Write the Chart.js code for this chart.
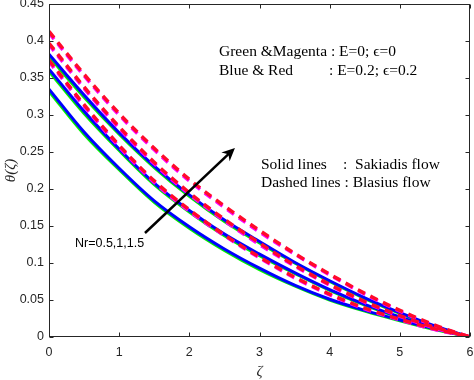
<!DOCTYPE html>
<html>
<head>
<meta charset="utf-8">
<script src="https://cdn.jsdelivr.net/npm/chart.js@4/dist/chart.umd.min.js"></script>
<style>
html,body{margin:0;padding:0;background:#fff;}
#wrap{width:474px;height:380px;position:relative;}
</style>
</head>
<body>
<div id="wrap"><canvas id="c" width="474" height="380"></canvas></div>
<script>
// ---- data ----
const zeta = [0, 0.5, 1, 1.5, 2, 2.5, 3, 3.5, 4, 4.5, 5, 5.5, 6];

// Sakiadis flow (solid), E=0.2 (blue) and E=0 (green), Nr = 0.5, 1, 1.5
const blueNr05  = [0.335, 0.277, 0.228, 0.184, 0.149, 0.119, 0.093, 0.070, 0.051, 0.036, 0.023, 0.011, 0];
const blueNr1   = [0.362, 0.305, 0.254, 0.208, 0.171, 0.139, 0.112, 0.087, 0.064, 0.044, 0.027, 0.012, 0];
const blueNr15  = [0.382, 0.327, 0.276, 0.231, 0.192, 0.158, 0.129, 0.101, 0.076, 0.053, 0.033, 0.015, 0];
const greenNr05 = [0.332, 0.274, 0.226, 0.182, 0.147, 0.117, 0.091, 0.069, 0.050, 0.035, 0.022, 0.010, 0];
const greenNr1  = [0.359, 0.302, 0.252, 0.206, 0.169, 0.137, 0.110, 0.086, 0.063, 0.043, 0.026, 0.011, 0];
const greenNr15 = [0.379, 0.324, 0.274, 0.229, 0.190, 0.156, 0.127, 0.100, 0.075, 0.052, 0.032, 0.014, 0];

// Blasius flow (dashed), E=0.2 (red) and E=0 (magenta)
const redNr05     = [0.374, 0.314, 0.259, 0.211, 0.172, 0.138, 0.108, 0.081, 0.058, 0.039, 0.024, 0.011, 0];
const redNr1      = [0.397, 0.338, 0.284, 0.236, 0.195, 0.159, 0.127, 0.097, 0.071, 0.048, 0.029, 0.013, 0];
const redNr15     = [0.413, 0.355, 0.302, 0.255, 0.213, 0.177, 0.144, 0.113, 0.085, 0.059, 0.036, 0.016, 0];
const magentaNr05 = [0.372, 0.312, 0.257, 0.209, 0.170, 0.137, 0.107, 0.080, 0.057, 0.038, 0.023, 0.010, 0];
const magentaNr1  = [0.395, 0.336, 0.282, 0.234, 0.193, 0.157, 0.125, 0.096, 0.070, 0.047, 0.028, 0.012, 0];
const magentaNr15 = [0.411, 0.353, 0.300, 0.253, 0.211, 0.175, 0.142, 0.112, 0.084, 0.058, 0.035, 0.015, 0];

const xTicks = [0, 1, 2, 3, 4, 5, 6];
const yTicks = [0, 0.05, 0.1, 0.15, 0.2, 0.25, 0.3, 0.35, 0.4, 0.45];
const yTickLabels = ['0', '0.05', '0.1', '0.15', '0.2', '0.25', '0.3', '0.35', '0.4', '0.45'];

// ---- build datasets ----
const pts = arr => zeta.map((z, i) => ({x: z, y: arr[i]}));
function ds(arr, color, dashed, order) {
  return {
    data: pts(arr),
    borderColor: color,
    borderWidth: dashed ? 3.5 : 3,
    borderDash: dashed ? [8, 6] : [],
    pointRadius: 0,
    fill: false,
    cubicInterpolationMode: 'monotone',
    order: order
  };
}
const datasets = [
  ds(redNr15, '#ff0a2a', true, 1), ds(redNr1, '#ff0a2a', true, 1), ds(redNr05, '#ff0a2a', true, 1),
  ds(magentaNr15, '#ff00ff', true, 2), ds(magentaNr1, '#ff00ff', true, 2), ds(magentaNr05, '#ff00ff', true, 2),
  ds(blueNr15, '#0000ff', false, 3), ds(blueNr1, '#0000ff', false, 3), ds(blueNr05, '#0000ff', false, 3),
  ds(greenNr15, '#00ee00', false, 4), ds(greenNr1, '#00ee00', false, 4), ds(greenNr05, '#00ee00', false, 4)
];

const AX = '#262626';

const decor = {
  id: 'decor',
  afterDraw(chart) {
    const {ctx, chartArea: a, scales: {x, y}} = chart;
    const P = (zx, ty) => [x.getPixelForValue(zx), y.getPixelForValue(ty)];
    ctx.save();
    // box
    ctx.strokeStyle = AX;
    ctx.lineWidth = 1;
    const L = Math.round(a.left) + 0.5, R = Math.round(a.right) - 0.5;
    const T = Math.round(a.top) + 0.5, B = Math.round(a.bottom) - 0.5;
    ctx.strokeRect(L, T, R - L, B - T);
    // inward ticks
    ctx.beginPath();
    xTicks.forEach(v => {
      const px = Math.round(x.getPixelForValue(v)) + 0.5;
      ctx.moveTo(px, B); ctx.lineTo(px, B - 4);
      ctx.moveTo(px, T); ctx.lineTo(px, T + 4);
    });
    yTicks.forEach(v => {
      const py = Math.round(y.getPixelForValue(v)) + 0.5;
      ctx.moveTo(L, py); ctx.lineTo(L + 4, py);
      ctx.moveTo(R, py); ctx.lineTo(R - 4, py);
    });
    ctx.stroke();

    // annotation texts
    ctx.fillStyle = '#000';
    ctx.textBaseline = 'middle';
    ctx.textAlign = 'left';
    ctx.font = '15.5px "Liberation Serif", "Times New Roman", serif';
    let p = P(2.423, 0.3847);
    ctx.fillText('Green &Magenta : E=0; \u03F5=0', p[0], p[1]);
    p = P(2.423, 0.3599);
    ctx.fillText('Blue & Red', p[0], p[1]);
    p = P(3.99, 0.3599);
    ctx.fillText(': E=0.2; \u03F5=0.2', p[0], p[1]);
    p = P(3.021, 0.2324);
    ctx.fillText('Solid lines', p[0], p[1]);
    p = P(4.19, 0.2324);
    ctx.fillText(':  Sakiadis flow', p[0], p[1]);
    p = P(3.021, 0.2077);
    ctx.fillText('Dashed lines : Blasius flow', p[0], p[1]);

    ctx.font = '12.5px "Liberation Sans", Arial, sans-serif';
    p = P(0.3705, 0.1266);
    ctx.fillText('Nr=0.5,1,1.5', p[0], p[1]);

    // arrow
    const s = P(1.368, 0.1405), e = P(2.65, 0.2554);
    const ang = Math.atan2(e[1] - s[1], e[0] - s[0]);
    ctx.strokeStyle = '#000';
    ctx.lineWidth = 2.5;
    ctx.beginPath();
    ctx.moveTo(s[0], s[1]);
    ctx.lineTo(e[0] - 6 * Math.cos(ang), e[1] - 6 * Math.sin(ang));
    ctx.stroke();
    ctx.fillStyle = '#000';
    ctx.translate(e[0], e[1]);
    ctx.rotate(ang);
    ctx.beginPath();
    ctx.moveTo(0, 0);
    ctx.lineTo(-13, -6);
    ctx.lineTo(-9, 0);
    ctx.lineTo(-13, 6);
    ctx.closePath();
    ctx.fill();
    ctx.setTransform(1, 0, 0, 1, 0, 0);

    // axis titles
    ctx.fillStyle = AX;
    ctx.textAlign = 'center';
    ctx.font = 'italic 15px "Liberation Serif", "Times New Roman", serif';
    ctx.fillText('\u03B6', (a.left + a.right) / 2, 372);
    ctx.translate(11, (a.top + a.bottom) / 2);
    ctx.rotate(-Math.PI / 2);
    ctx.fillText('\u03B8(\u03B6)', 0, 0);
    ctx.restore();
  }
};

new Chart(document.getElementById('c'), {
  type: 'line',
  data: {datasets},
  options: {
    responsive: false,
    animation: false,
    devicePixelRatio: 1,
    layout: {padding: {top: 4, right: 4, left: 0, bottom: 0}},
    plugins: {legend: {display: false}, tooltip: {enabled: false}},
    scales: {
      x: {
        type: 'linear', min: 0, max: 6,
        afterFit: s => { s.height = 43; s.paddingLeft = 0; s.paddingRight = 0; },
        grid: {display: false, drawTicks: false},
        border: {display: false},
        afterBuildTicks: s => { s.ticks = xTicks.map(v => ({value: v})); },
        ticks: {
          padding: 8, color: AX, maxRotation: 0,
          font: {family: '"Liberation Sans", Arial, sans-serif', size: 12.5},
          callback: v => String(v)
        }
      },
      y: {
        type: 'linear', min: 0, max: 0.45,
        afterFit: s => { s.width = 49; s.paddingTop = 0; s.paddingBottom = 0; },
        grid: {display: false, drawTicks: false},
        border: {display: false},
        afterBuildTicks: s => { s.ticks = yTicks.map(v => ({value: v})); },
        ticks: {
          padding: 5, color: AX,
          font: {family: '"Liberation Sans", Arial, sans-serif', size: 12.5},
          callback: v => { const i = yTicks.findIndex(t => Math.abs(t - v) < 1e-9); return i >= 0 ? yTickLabels[i] : ''; }
        }
      }
    }
  },
  plugins: [decor]
});
</script>
</body>
</html>
